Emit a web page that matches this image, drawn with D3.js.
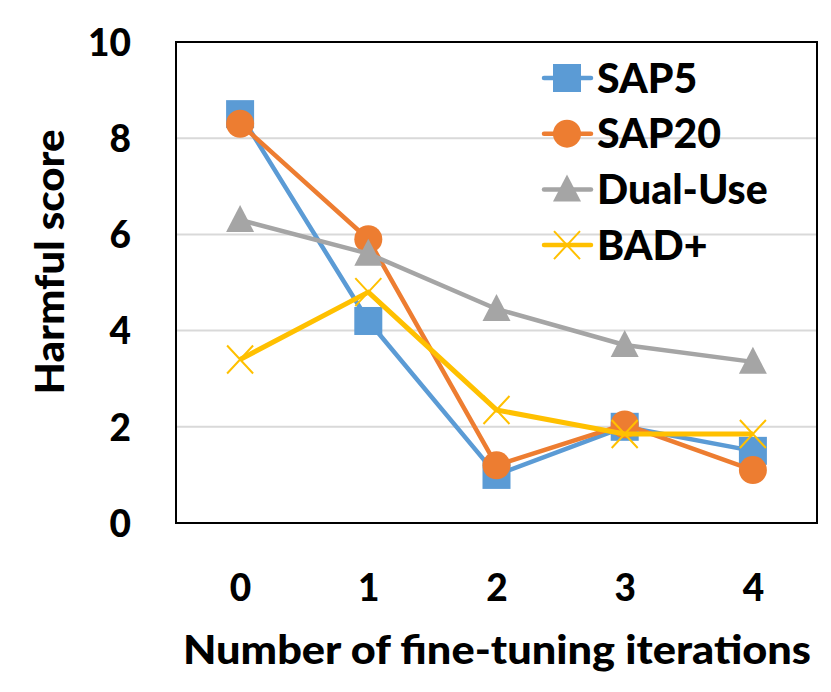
<!DOCTYPE html>
<html>
<head>
<meta charset="utf-8">
<script src="https://cdn.jsdelivr.net/npm/d3@7"></script>
<style>
  body { margin: 0; background: #fff; }
  text { font-family: Lato, "Open Sans", sans-serif; font-weight: 900; fill: #000; }
</style>
</head>
<body>
<svg id="chart"></svg>
<script>
var width = 831;
var height = 692;

var iterations = [0, 1, 2, 3, 4];
var seriesNames = ["SAP5", "SAP20", "Dual-Use", "BAD+"];
var sap5 = [8.5, 4.2, 1.0, 2.0, 1.5];
var sap20 = [8.3, 5.9, 1.2, 2.05, 1.1];
var dualUse = [6.3, 5.6, 4.45, 3.7, 3.35];
var badPlus = [3.4, 4.8, 2.35, 1.85, 1.85];
var yTicks = [0, 2, 4, 6, 8, 10];

var colors = ["#5B9BD5", "#ED7D31", "#A5A5A5", "#FFC000"];
var markers = ["square", "circle", "triangle", "x"];
var allValues = [sap5, sap20, dualUse, badPlus];

var frame = {left: 176, right: 817, top: 42, bottom: 523};

var svg = d3.select('#chart').attr('width', width).attr('height', height);

var x_scale = d3.scalePoint().domain(iterations).range([frame.left, frame.right]).padding(0.5);
var y_scale = d3.scaleLinear().domain([0, 10]).range([frame.bottom, frame.top]);

// gridlines
svg.append('g').attr('class', 'grid')
  .selectAll('line').data(yTicks.slice(1, -1)).enter().append('line')
  .attr('x1', frame.left).attr('x2', frame.right)
  .attr('y1', function(d){ return y_scale(d); })
  .attr('y2', function(d){ return y_scale(d); })
  .attr('stroke', '#D9D9D9').attr('stroke-width', 2);

// frame
svg.append('rect')
  .attr('x', frame.left).attr('y', frame.top)
  .attr('width', frame.right - frame.left).attr('height', frame.bottom - frame.top)
  .attr('fill', 'none').attr('stroke', '#000').attr('stroke-width', 2);

// y tick labels
var y_axis = d3.axisLeft(y_scale).tickValues(yTicks).tickSize(0).tickPadding(0);
var yg = svg.append('g').attr('transform', 'translate(131,0)').call(y_axis);
yg.select('.domain').remove();
yg.selectAll('text').style('font-size', '37px').style('font-family', 'Lato, sans-serif')
  .attr('dy', '0.36em');

// x tick labels
var x_axis = d3.axisBottom(x_scale).tickSize(0).tickPadding(0);
var xg = svg.append('g').attr('transform', 'translate(0,601)').call(x_axis);
xg.select('.domain').remove();
xg.selectAll('text').style('font-size', '37px').style('font-family', 'Lato, sans-serif')
  .attr('dy', '0').attr('y', 0);

// axis titles
svg.append('text').text('Number of fine-tuning iterations')
  .attr('x', 497).attr('y', 664).attr('text-anchor', 'middle')
  .style('font-size', '40px')
  .attr('textLength', 628).attr('lengthAdjust', 'spacingAndGlyphs');

svg.append('text').text('Harmful score')
  .attr('transform', 'translate(64,262) rotate(-90)')
  .attr('text-anchor', 'middle')
  .style('font-size', '40px')
  .attr('textLength', 265).attr('lengthAdjust', 'spacingAndGlyphs');

function drawMarker(g, type, color, cx, cy) {
  if (type == 'square') {
    g.append('rect').attr('x', cx - 14).attr('y', cy - 14).attr('width', 28).attr('height', 28).attr('fill', color);
  } else if (type == 'circle') {
    g.append('circle').attr('cx', cx).attr('cy', cy).attr('r', 14).attr('fill', color);
  } else if (type == 'triangle') {
    g.append('path').attr('d', 'M' + cx + ',' + (cy - 15) + 'L' + (cx + 14) + ',' + (cy + 12) + 'L' + (cx - 14) + ',' + (cy + 12) + 'Z').attr('fill', color);
  } else {
    g.append('path').attr('d', 'M' + (cx - 13) + ',' + (cy - 14) + 'L' + (cx + 13) + ',' + (cy + 14) + 'M' + (cx + 13) + ',' + (cy - 14) + 'L' + (cx - 13) + ',' + (cy + 14))
      .attr('stroke', color).attr('stroke-width', 2).attr('fill', 'none');
  }
}

var line = d3.line()
  .x(function(d, i){ return x_scale(iterations[i]); })
  .y(function(d){ return y_scale(d); });

for (var s = 0; s < allValues.length; s++) {
  var g = svg.append('g').attr('class', 'series-' + s);
  g.append('path').datum(allValues[s]).attr('d', line)
    .attr('fill', 'none').attr('stroke', colors[s]).attr('stroke-width', s == 3 ? 5 : 4.5)
    .attr('stroke-linejoin', 'round');
  for (var i = 0; i < iterations.length; i++) {
    drawMarker(g, markers[s], colors[s], x_scale(iterations[i]), y_scale(allValues[s][i]));
  }
}

// legend
var legend = svg.append('g').attr('class', 'legend');
for (var k = 0; k < seriesNames.length; k++) {
  var ly = 78 + k * 55.7;
  var lg = legend.append('g');
  lg.append('line').attr('x1', 544).attr('x2', 591).attr('y1', ly).attr('y2', ly)
    .attr('stroke', colors[k]).attr('stroke-width', 4.5).attr('stroke-linecap', 'round');
  drawMarker(lg, markers[k], colors[k], 567, ly);
  lg.append('text').text(seriesNames[k]).attr('x', 597).attr('y', ly).attr('dy', '0.36em')
    .style('font-size', '41px');
}
</script>
</body>
</html>
